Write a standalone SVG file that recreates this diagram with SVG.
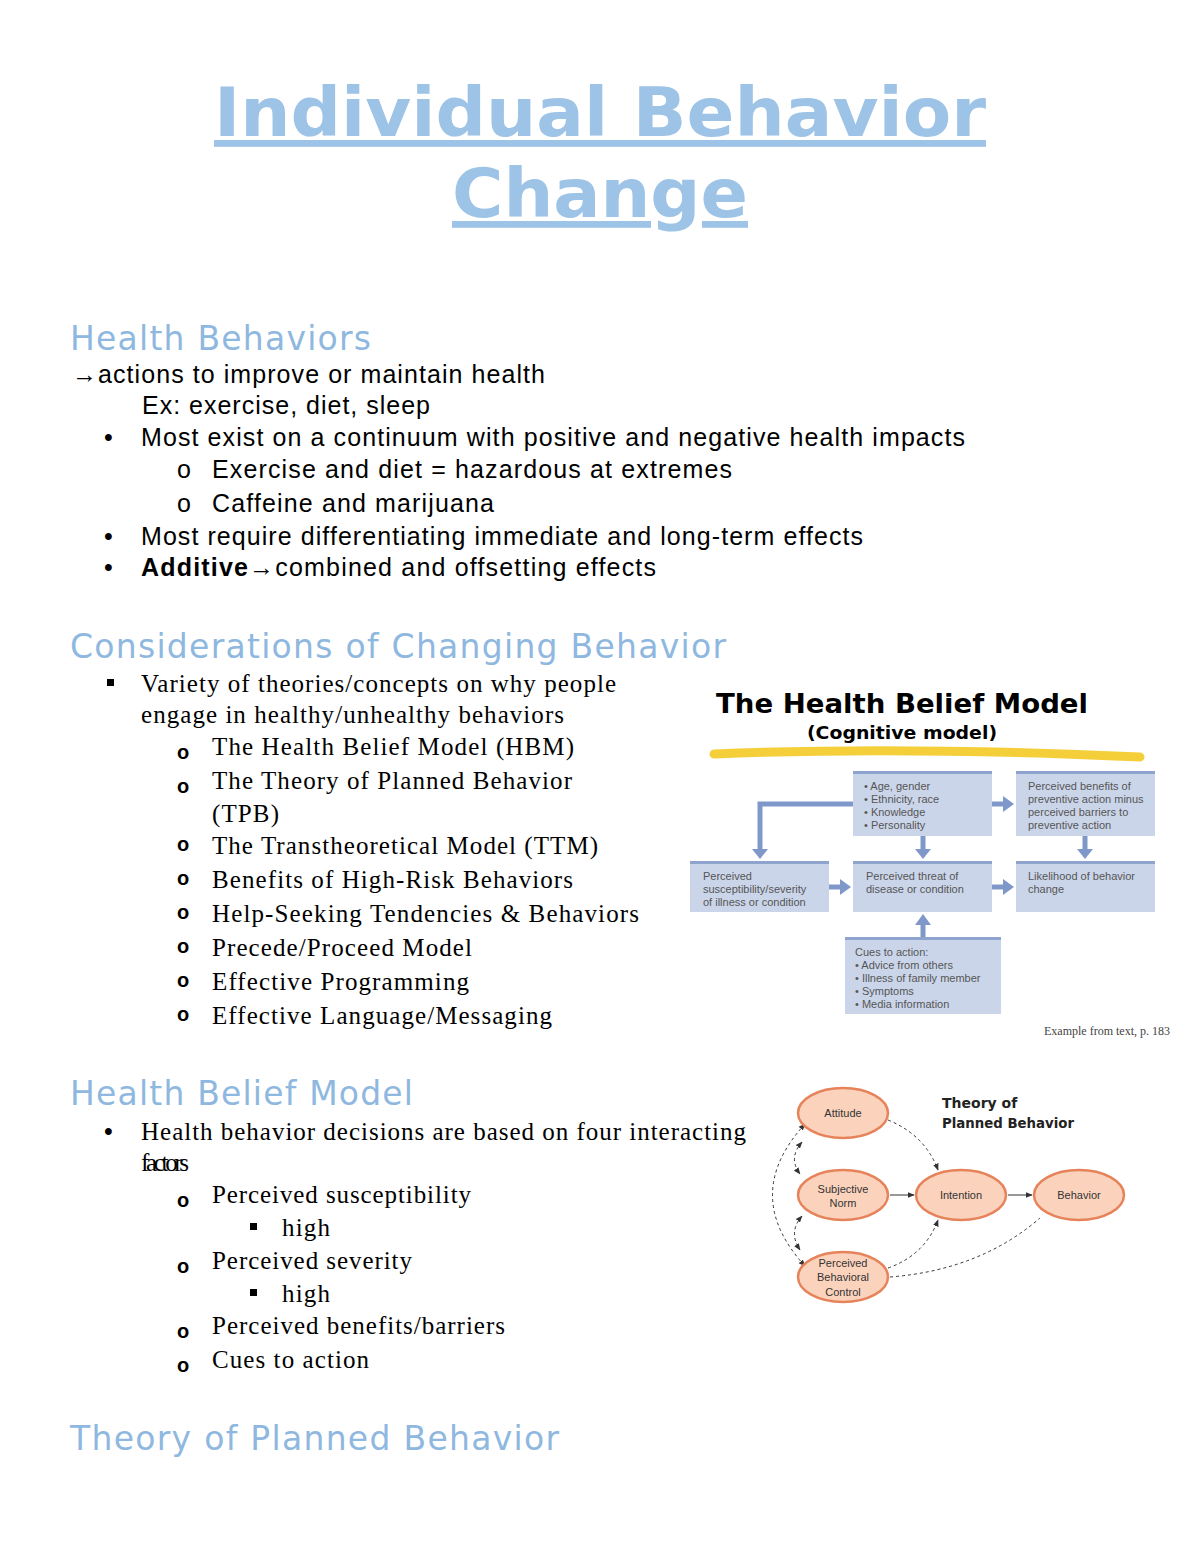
<svg xmlns="http://www.w3.org/2000/svg" width="1200" height="1553" viewBox="0 0 1200 1553">
<style>
.t{font-family:"DejaVu Sans",sans-serif;fill:#9dc3e6;font-weight:bold;font-size:68px;text-decoration:underline}
.h{font-family:"DejaVu Sans",sans-serif;fill:#8fb8e0;font-size:33px}
.b{font-family:"Liberation Sans",Arial,sans-serif;font-size:25px;fill:#000}
.s{font-family:"Liberation Serif","Times New Roman",serif;font-size:25px;fill:#000}
.bx{fill:#cbd5ea}
.bt{fill:#8ea3cd}
.bl{font-family:"Liberation Sans",Arial,sans-serif;font-size:11px;fill:#555}
.ar{stroke:#7f98c9;stroke-width:5;fill:none}
.ah{fill:#7f98c9}
.el{fill:#fbd3bd;stroke:#e6835a;stroke-width:2.5}
.el2{font-family:"Liberation Sans",Arial,sans-serif;font-size:11px;fill:#333;text-anchor:middle}
.cn{stroke:#333;stroke-width:1;fill:none}
.dd{stroke-dasharray:3,3}
</style>
<defs>
<marker id="m" viewBox="0 0 10 10" refX="9" refY="5" markerWidth="7" markerHeight="7" orient="auto-start-reverse"><path d="M0,1 L10,5 L0,9 z" fill="#333"/></marker>
</defs>
<rect width="1200" height="1553" fill="#fff"/>
<g id="title">
<text class="t" x="600" y="136" text-anchor="middle" textLength="772" lengthAdjust="spacingAndGlyphs">Individual Behavior</text>
<text class="t" x="600" y="217" text-anchor="middle" textLength="296" lengthAdjust="spacingAndGlyphs">Change</text>
</g>
<g id="sec1">
<text class="h" x="70" y="350" textLength="301">Health Behaviors</text>
<text class="b" x="72" y="383" textLength="473">→actions to improve or maintain health</text>
<text class="b" x="142" y="414" textLength="288">Ex: exercise, diet, sleep</text>
<text class="b" x="104" y="446">•</text><text class="b" x="141" y="446" textLength="824">Most exist on a continuum with positive and negative health impacts</text>
<text class="b" x="177" y="478">o</text><text class="b" x="212" y="478" textLength="520">Exercise and diet = hazardous at extremes</text>
<text class="b" x="177" y="512">o</text><text class="b" x="212" y="512" textLength="282">Caffeine and marijuana</text>
<text class="b" x="104" y="545">•</text><text class="b" x="141" y="545" textLength="722">Most require differentiating immediate and long-term effects</text>
<text class="b" x="104" y="576">•</text><text class="b" x="141" y="576" textLength="515"><tspan font-weight="bold">Additive</tspan>→combined and offsetting effects</text>
</g>
<g id="sec2">
<text class="h" x="70" y="658" textLength="656">Considerations of Changing Behavior</text>
<rect x="107" y="679" width="7" height="7"/>
<text class="s" x="141" y="692" textLength="475">Variety of theories/concepts on why people</text>
<text class="s" x="141" y="723" textLength="423">engage in healthy/unhealthy behaviors</text>
<g font-family="Liberation Sans,sans-serif" font-weight="bold" font-size="20">
<text x="177" y="759">o</text><text x="177" y="793">o</text><text x="177" y="851">o</text><text x="177" y="885">o</text><text x="177" y="919">o</text><text x="177" y="953">o</text><text x="177" y="987">o</text><text x="177" y="1021">o</text>
</g>
<text class="s" x="212" y="755" textLength="362">The Health Belief Model (HBM)</text>
<text class="s" x="212" y="789" textLength="360">The Theory of Planned Behavior</text>
<text class="s" x="212" y="822" textLength="67">(TPB)</text>
<text class="s" x="212" y="854" textLength="386">The Transtheoretical Model (TTM)</text>
<text class="s" x="212" y="888" textLength="361">Benefits of High-Risk Behaviors</text>
<text class="s" x="212" y="922" textLength="427">Help-Seeking Tendencies &amp; Behaviors</text>
<text class="s" x="212" y="956" textLength="260">Precede/Proceed Model</text>
<text class="s" x="212" y="990" textLength="257">Effective Programming</text>
<text class="s" x="212" y="1024" textLength="340">Effective Language/Messaging</text>
</g>
<g id="hbm">
<text x="902" y="713" text-anchor="middle" font-family="DejaVu Sans,sans-serif" font-weight="bold" font-size="26" textLength="372" lengthAdjust="spacingAndGlyphs">The Health Belief Model</text>
<text x="902" y="739" text-anchor="middle" font-family="DejaVu Sans,sans-serif" font-weight="bold" font-size="18" textLength="190" lengthAdjust="spacingAndGlyphs">(Cognitive model)</text>
<path d="M714,754 Q900,746 1140,757" stroke="#f4cf3a" stroke-width="9" fill="none" stroke-linecap="round"/>
<g id="n1"><rect class="bx" x="853" y="771" width="139" height="65"/><rect class="bt" x="853" y="771" width="139" height="3"/>
<text class="bl" x="864" y="790">•  Age, gender</text><text class="bl" x="864" y="803">•  Ethnicity, race</text><text class="bl" x="864" y="816">•  Knowledge</text><text class="bl" x="864" y="829">•  Personality</text></g>
<g id="n2"><rect class="bx" x="1016" y="771" width="139" height="65"/><rect class="bt" x="1016" y="771" width="139" height="3"/>
<text class="bl" x="1028" y="790">Perceived benefits of</text><text class="bl" x="1028" y="803">preventive action minus</text><text class="bl" x="1028" y="816">perceived barriers to</text><text class="bl" x="1028" y="829">preventive action</text></g>
<g id="n3"><rect class="bx" x="690" y="861" width="139" height="51"/><rect class="bt" x="690" y="861" width="139" height="3"/>
<text class="bl" x="703" y="880">Perceived</text><text class="bl" x="703" y="893">susceptibility/severity</text><text class="bl" x="703" y="906">of illness or condition</text></g>
<g id="n4"><rect class="bx" x="853" y="861" width="139" height="51"/><rect class="bt" x="853" y="861" width="139" height="3"/>
<text class="bl" x="866" y="880">Perceived threat of</text><text class="bl" x="866" y="893">disease or condition</text></g>
<g id="n5"><rect class="bx" x="1016" y="861" width="139" height="51"/><rect class="bt" x="1016" y="861" width="139" height="3"/>
<text class="bl" x="1028" y="880">Likelihood of behavior</text><text class="bl" x="1028" y="893">change</text></g>
<g id="n6"><rect class="bx" x="845" y="937" width="156" height="77"/><rect class="bt" x="845" y="937" width="156" height="3"/>
<text class="bl" x="855" y="956">Cues to action:</text><text class="bl" x="855" y="969">•  Advice from others</text><text class="bl" x="855" y="982">•  Illness of family member</text><text class="bl" x="855" y="995">•  Symptoms</text><text class="bl" x="855" y="1008">•  Media information</text></g>
<g id="hbm-connectors">
<path class="ar" d="M853,804 H760 V850"/><path class="ah" d="M752,849 H768 L760,859 z"/>
<path class="ar" d="M923,836 V850"/><path class="ah" d="M915,849 H931 L923,859 z"/>
<path class="ar" d="M1085,836 V850"/><path class="ah" d="M1077,849 H1093 L1085,859 z"/>
<path class="ar" d="M992,804 H1004"/><path class="ah" d="M1003,796 V812 L1014,804 z"/>
<path class="ar" d="M829,887 H841"/><path class="ah" d="M840,879 V895 L851,887 z"/>
<path class="ar" d="M992,887 H1004"/><path class="ah" d="M1003,879 V895 L1014,887 z"/>
<path class="ar" d="M923,937 V924"/><path class="ah" d="M915,925 H931 L923,914 z"/>
</g>
<text x="1170" y="1035" text-anchor="end" font-family="Liberation Serif,serif" font-size="12" fill="#444">Example from text, p. 183</text>
</g>
<g id="sec3">
<text class="h" x="70" y="1105" textLength="343">Health Belief Model</text>
<text class="b" x="104" y="1140">•</text>
<text class="s" x="141" y="1140" textLength="605">Health behavior decisions are based on four interacting</text>
<text class="s" x="141" y="1171" textLength="48">factors</text>
<g font-family="Liberation Sans,sans-serif" font-weight="bold" font-size="20">
<text x="177" y="1207">o</text><text x="177" y="1273">o</text><text x="177" y="1338">o</text><text x="177" y="1372">o</text>
</g>
<text class="s" x="212" y="1203" textLength="259">Perceived susceptibility</text>
<rect x="250" y="1223" width="7" height="7"/><text class="s" x="282" y="1236" textLength="48">high</text>
<text class="s" x="212" y="1269" textLength="200">Perceived severity</text>
<rect x="250" y="1289" width="7" height="7"/><text class="s" x="282" y="1302" textLength="48">high</text>
<text class="s" x="212" y="1334" textLength="293">Perceived benefits/barriers</text>
<text class="s" x="212" y="1368" textLength="157">Cues to action</text>
</g>
<g id="tpb">
<text x="942" y="1108" font-family="DejaVu Sans,sans-serif" font-weight="bold" font-size="14" fill="#222">Theory of</text>
<text x="942" y="1128" font-family="DejaVu Sans,sans-serif" font-weight="bold" font-size="14" fill="#222" textLength="132" lengthAdjust="spacingAndGlyphs">Planned Behavior</text>
<g id="tpb-connectors">
<path class="cn dd" d="M888,1120 Q925,1135 938,1170" marker-end="url(#m)"/>
<path class="cn" d="M890,1195 H914" marker-end="url(#m)"/>
<path class="cn" d="M1008,1195 H1032" marker-end="url(#m)"/>
<path class="cn dd" d="M888,1268 Q925,1255 938,1220" marker-end="url(#m)"/>
<path class="cn dd" d="M890,1277 Q980,1270 1040,1218"/>
<path class="cn dd" d="M802,1142 Q788,1158 800,1174" marker-start="url(#m)" marker-end="url(#m)"/>
<path class="cn dd" d="M802,1216 Q788,1232 800,1250" marker-start="url(#m)" marker-end="url(#m)"/>
<path class="cn dd" d="M805,1124 Q740,1195 805,1266" marker-start="url(#m)" marker-end="url(#m)"/>
</g>
<g id="e1"><ellipse class="el" cx="843" cy="1113" rx="45" ry="25"/><text class="el2" x="843" y="1117">Attitude</text></g>
<g id="e2"><ellipse class="el" cx="843" cy="1195" rx="45" ry="25"/><text class="el2" x="843" y="1193">Subjective</text><text class="el2" x="843" y="1207">Norm</text></g>
<g id="e3"><ellipse class="el" cx="843" cy="1277" rx="45" ry="25"/><text class="el2" x="843" y="1267">Perceived</text><text class="el2" x="843" y="1281">Behavioral</text><text class="el2" x="843" y="1296">Control</text></g>
<g id="e4"><ellipse class="el" cx="961" cy="1195" rx="45" ry="25"/><text class="el2" x="961" y="1199">Intention</text></g>
<g id="e5"><ellipse class="el" cx="1079" cy="1195" rx="45" ry="25"/><text class="el2" x="1079" y="1199">Behavior</text></g>
</g>
<g id="sec4">
<text class="h" x="70" y="1450" textLength="489">Theory of Planned Behavior</text>
</g>
</svg>
